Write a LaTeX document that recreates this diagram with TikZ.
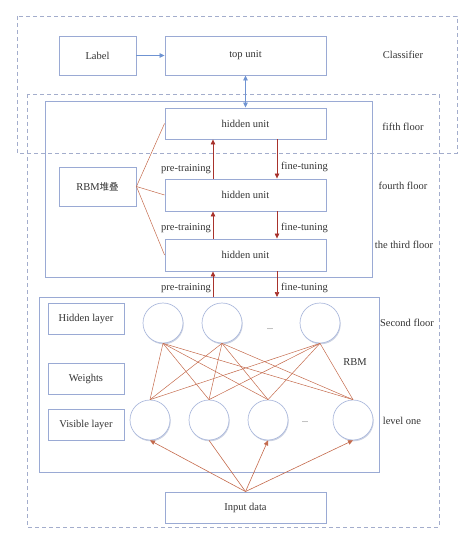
\documentclass[tikz,border=0pt]{standalone}
\usepackage{fontspec}
\setmainfont{Liberation Serif}
\newfontfamily\cjk{Noto Sans CJK SC}
\usetikzlibrary{arrows.meta}
\definecolor{boxc}{HTML}{9AAAD4}
\definecolor{dashc}{HTML}{A3ADCC}
\definecolor{redarr}{HTML}{A8322C}
\definecolor{linec}{HTML}{C46A4C}
\definecolor{bluearr}{HTML}{6F93D2}
\definecolor{txt}{HTML}{333333}
\definecolor{shadc}{HTML}{8E9BBE}
\tikzset{
  ubox/.style={draw=boxc, line width=0.9pt, fill=white, text=txt, font=\fontsize{10.5}{12}\selectfont, inner sep=0pt},
  flabel/.style={text=txt, font=\fontsize{10.5}{12}\selectfont, inner sep=1pt},
  dbox/.style={draw=dashc, dashed, dash pattern=on 4pt off 3pt, line width=0.7pt},
  sbox/.style={draw=boxc, line width=0.9pt},
  redarrow/.style={draw=redarr, line width=0.7pt, -{Triangle[length=5pt,width=4.5pt]}},
  bluearrow/.style={draw=bluearr, line width=0.8pt, -{Triangle[length=5pt,width=4.5pt]}},
  wline/.style={draw=linec, line width=0.5pt},
  unit/.style={circle, draw=boxc!80, line width=0.7pt, fill=white, minimum size=40pt, inner sep=0pt},
  shade/.style={circle, fill=shadc, minimum size=40pt, inner sep=0pt, opacity=0.45},
}
\begin{document}
\begin{tikzpicture}[x=1pt,y=-1pt]
\useasboundingbox (0,0) rectangle (474,545);
% dashed containers
\draw[dbox] (17,16) rectangle (457,153);
\draw[dbox] (27,94) rectangle (439,527);
% solid containers
\draw[sbox] (45,101) rectangle (372,277);
\draw[sbox] (39,297) rectangle (379,472);

% classifier
\node[ubox, minimum width=77pt, minimum height=39pt] (label) at (97.5,55.5) {Label};
\node[ubox, minimum width=161pt, minimum height=39pt] (top) at (245.5,55.5) {top unit};
\draw[bluearrow] (label.east) -- (top.west);

% hidden units
\node[ubox, minimum width=161pt, minimum height=31pt] (h1) at (245.5,123.5) {hidden unit};
\node[ubox, minimum width=161pt, minimum height=32pt] (h2) at (245.5,195) {hidden unit};
\node[ubox, minimum width=161pt, minimum height=32pt] (h3) at (245.5,255) {hidden unit};
\draw[bluearrow, {Triangle[length=5pt,width=4.5pt]}-{Triangle[length=5pt,width=4.5pt]}] (top.south) -- (h1.north);

\node[ubox, minimum width=77pt, minimum height=39pt] (stack) at (97.5,186.5) {RBM{\cjk\fontsize{9.5}{11}\selectfont 堆叠}};
\draw[wline] (stack.east) -- (h1.west);
\draw[wline] (stack.east) -- (h2.west);
\draw[wline] (stack.east) -- (h3.west);

\coordinate (px) at (213,0);
\coordinate (fx) at (277,0);
\draw[redarrow] (h2.north -| px) -- (h1.south -| px);
\draw[redarrow] (h1.south -| fx) -- (h2.north -| fx);
\draw[redarrow] (h3.north -| px) -- (h2.south -| px);
\draw[redarrow] (h2.south -| fx) -- (h3.north -| fx);
\coordinate (rbmtopL) at (213,297);
\coordinate (rbmtopR) at (277,297);
\draw[redarrow] (rbmtopL) -- (h3.south -| px);
\draw[redarrow] (h3.south -| fx) -- (rbmtopR);

\node[flabel, anchor=east] (pt1) at (212,169) {pre-training};
\node[flabel, anchor=west] (ft1) at (280,167) {fine-tuning};
\node[flabel, anchor=east] (pt2) at (212,228) {pre-training};
\node[flabel, anchor=west] (ft2) at (280,228) {fine-tuning};
\node[flabel, anchor=east] (pt3) at (212,288) {pre-training};
\node[flabel, anchor=west] (ft3) at (280,288) {fine-tuning};

% side labels
\node[flabel] (lc) at (403,55) {Classifier};
\node[flabel] (l5) at (403,127) {fifth floor};
\node[flabel] (l4) at (403,186) {fourth floor};
\node[flabel] (l3) at (404,245) {the third floor};
\node[flabel] (l2) at (407,323) {Second floor};
\node[flabel] (lr) at (355,362) {RBM};
\node[flabel] (l1) at (402,421) {level one};

% RBM layer labels
\node[ubox, minimum width=76pt, minimum height=31pt] (hl) at (86,318.5) {Hidden layer};
\node[ubox, minimum width=76pt, minimum height=31pt] (wl) at (86,378.5) {Weights};
\node[ubox, minimum width=76pt, minimum height=31pt] (vl) at (86,424.5) {Visible layer};

% units (with soft shadow)
\foreach \n/\x/\y in {hc1/163/323, hc2/222/323, hc3/320/323, vc1/150/420, vc2/209/420, vc3/268/420, vc4/353/420}{
  \node[shade] (\n s) at (\x+0.7,\y+1.3) {};
}
\node[unit] (hc1) at (163,323) {};
\node[unit] (hc2) at (222,323) {};
\node[unit] (hc3) at (320,323) {};
\node[flabel, font=\fontsize{8}{9}\selectfont] (hdots) at (270,329) {...};
\node[unit] (vc1) at (150,420) {};
\node[unit] (vc2) at (209,420) {};
\node[unit] (vc3) at (268,420) {};
\node[unit] (vc4) at (353,420) {};
\node[flabel, font=\fontsize{8}{9}\selectfont] (vdots) at (305,422) {...};

\foreach \h in {hc1,hc2,hc3}{
  \foreach \v in {vc1,vc2,vc3,vc4}{
    \draw[wline] (\h.south) -- (\v.north);
  }
}

% input
\node[ubox, minimum width=161pt, minimum height=31pt] (input) at (245.5,507.5) {Input data};
\draw[redarrow, draw=linec, line width=0.6pt] (input.north) -- (vc1.south);
\draw[wline, line width=0.6pt] (vc2.south) -- (input.north);
\draw[redarrow, draw=linec, line width=0.6pt] (input.north) -- (vc3.south);
\draw[redarrow, draw=linec, line width=0.6pt] (input.north) -- (vc4.south);
\end{tikzpicture}
\end{document}
